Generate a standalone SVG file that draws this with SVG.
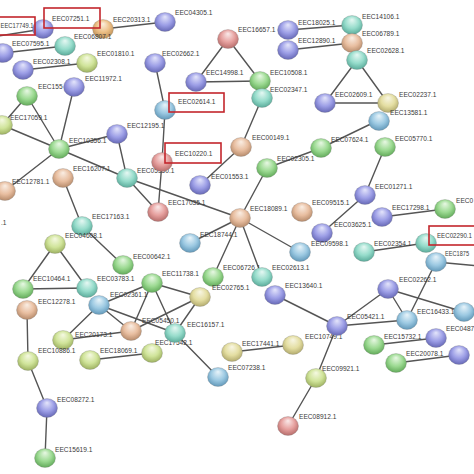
<svg xmlns="http://www.w3.org/2000/svg" width="474" height="474" viewBox="0 0 474 474">
<style>
text{font-family:"Liberation Sans",Arial,sans-serif;font-size:6.6px;fill:#3a3a3a}
.e line{stroke:#555;stroke-width:1.4;stroke-linecap:round}
ellipse{stroke:#777;stroke-opacity:.45;stroke-width:.6}
.box{fill:none;stroke:#c3262c;stroke-width:1.6}
</style>
<defs>
<radialGradient id="gPu" cx="50%" cy="45%" r="60%" fx="50%" fy="22%"><stop offset="0" stop-color="#e4e5fb"/><stop offset=".55" stop-color="#9c9ee6"/><stop offset="1" stop-color="#5f61b0"/></radialGradient>
<radialGradient id="gCy" cx="50%" cy="45%" r="60%" fx="50%" fy="22%"><stop offset="0" stop-color="#e6f8f3"/><stop offset=".55" stop-color="#96dccb"/><stop offset="1" stop-color="#52a594"/></radialGradient>
<radialGradient id="gLb" cx="50%" cy="45%" r="60%" fx="50%" fy="22%"><stop offset="0" stop-color="#e8f4fa"/><stop offset=".55" stop-color="#9cc9e2"/><stop offset="1" stop-color="#5a92b4"/></radialGradient>
<radialGradient id="gGr" cx="50%" cy="45%" r="60%" fx="50%" fy="22%"><stop offset="0" stop-color="#e8f8e4"/><stop offset=".55" stop-color="#9cda92"/><stop offset="1" stop-color="#5aa452"/></radialGradient>
<radialGradient id="gYg" cx="50%" cy="45%" r="60%" fx="50%" fy="22%"><stop offset="0" stop-color="#f5f9e2"/><stop offset=".55" stop-color="#d0e49a"/><stop offset="1" stop-color="#96aa58"/></radialGradient>
<radialGradient id="gYe" cx="50%" cy="45%" r="60%" fx="50%" fy="22%"><stop offset="0" stop-color="#f8f6e4"/><stop offset=".55" stop-color="#e4dea2"/><stop offset="1" stop-color="#aca466"/></radialGradient>
<radialGradient id="gPe" cx="50%" cy="45%" r="60%" fx="50%" fy="22%"><stop offset="0" stop-color="#faeee4"/><stop offset=".55" stop-color="#e8bea0"/><stop offset="1" stop-color="#b08464"/></radialGradient>
<radialGradient id="gRe" cx="50%" cy="45%" r="60%" fx="50%" fy="22%"><stop offset="0" stop-color="#faeaea"/><stop offset=".55" stop-color="#e6a09e"/><stop offset="1" stop-color="#b06664"/></radialGradient>
<radialGradient id="gOr" cx="50%" cy="45%" r="60%" fx="50%" fy="22%"><stop offset="0" stop-color="#fbf0e0"/><stop offset=".55" stop-color="#ecbe84"/><stop offset="1" stop-color="#b88a52"/></radialGradient>
</defs>
<rect width="474" height="474" fill="#fff"/>
<g id="connectors" class="e">
<line x1="43" y1="29" x2="-8" y2="37"/>
<line x1="103" y1="29" x2="165" y2="22"/>
<line x1="65" y1="46" x2="3" y2="53"/>
<line x1="23" y1="70" x2="87" y2="63"/>
<line x1="27" y1="96" x2="59" y2="149"/>
<line x1="74" y1="87" x2="59" y2="149"/>
<line x1="27" y1="96" x2="2" y2="125"/>
<line x1="2" y1="125" x2="59" y2="149"/>
<line x1="59" y1="149" x2="117" y2="134"/>
<line x1="59" y1="149" x2="127" y2="178"/>
<line x1="59" y1="149" x2="5" y2="191"/>
<line x1="117" y1="134" x2="127" y2="178"/>
<line x1="127" y1="178" x2="158" y2="212"/>
<line x1="127" y1="178" x2="240" y2="218"/>
<line x1="63" y1="178" x2="82" y2="226"/>
<line x1="82" y1="226" x2="123" y2="265"/>
<line x1="162" y1="162" x2="158" y2="212"/>
<line x1="165" y1="110" x2="162" y2="162"/>
<line x1="155" y1="63" x2="165" y2="110"/>
<line x1="228" y1="39" x2="196" y2="82"/>
<line x1="228" y1="39" x2="260" y2="81"/>
<line x1="196" y1="82" x2="260" y2="81"/>
<line x1="262" y1="98" x2="241" y2="147"/>
<line x1="241" y1="147" x2="200" y2="185"/>
<line x1="288" y1="30" x2="352" y2="25"/>
<line x1="288" y1="50" x2="352" y2="43"/>
<line x1="357" y1="60" x2="325" y2="103"/>
<line x1="357" y1="60" x2="388" y2="103"/>
<line x1="325" y1="103" x2="388" y2="103"/>
<line x1="379" y1="120" x2="321" y2="148"/>
<line x1="321" y1="148" x2="267" y2="168"/>
<line x1="267" y1="168" x2="240" y2="218"/>
<line x1="385" y1="147" x2="365" y2="195"/>
<line x1="365" y1="195" x2="322" y2="233"/>
<line x1="240" y1="218" x2="213" y2="277"/>
<line x1="240" y1="218" x2="262" y2="277"/>
<line x1="240" y1="218" x2="300" y2="252"/>
<line x1="240" y1="218" x2="190" y2="243"/>
<line x1="382" y1="217" x2="445" y2="209"/>
<line x1="364" y1="252" x2="426" y2="243"/>
<line x1="436" y1="262" x2="480" y2="266"/>
<line x1="436" y1="262" x2="407" y2="320"/>
<line x1="388" y1="289" x2="407" y2="320"/>
<line x1="388" y1="289" x2="337" y2="326"/>
<line x1="388" y1="289" x2="464" y2="312"/>
<line x1="337" y1="326" x2="407" y2="320"/>
<line x1="275" y1="295" x2="337" y2="326"/>
<line x1="337" y1="326" x2="316" y2="378"/>
<line x1="316" y1="378" x2="288" y2="426"/>
<line x1="293" y1="345" x2="232" y2="352"/>
<line x1="175" y1="333" x2="218" y2="377"/>
<line x1="55" y1="244" x2="23" y2="289"/>
<line x1="55" y1="244" x2="87" y2="288"/>
<line x1="23" y1="289" x2="87" y2="288"/>
<line x1="27" y1="310" x2="28" y2="361"/>
<line x1="28" y1="361" x2="47" y2="408"/>
<line x1="47" y1="408" x2="45" y2="458"/>
<line x1="90" y1="360" x2="152" y2="353"/>
<line x1="99" y1="305" x2="152" y2="283"/>
<line x1="99" y1="305" x2="131" y2="331"/>
<line x1="99" y1="305" x2="63" y2="340"/>
<line x1="99" y1="305" x2="175" y2="333"/>
<line x1="152" y1="283" x2="131" y2="331"/>
<line x1="131" y1="331" x2="63" y2="340"/>
<line x1="131" y1="331" x2="200" y2="297"/>
<line x1="152" y1="283" x2="200" y2="297"/>
<line x1="152" y1="283" x2="175" y2="333"/>
<line x1="200" y1="297" x2="175" y2="333"/>
<line x1="396" y1="363" x2="459" y2="355"/>
<line x1="374" y1="345" x2="436" y2="338"/>
</g>
<g id="nodes">
<g id="n17749"><text x="0.5" y="27.5" textLength="33" lengthAdjust="spacingAndGlyphs">EEC17749.1</text></g>
<g id="n07251"><ellipse cx="43" cy="29" rx="10.5" ry="9.5" fill="url(#gPu)"/><text x="52" y="20.5">EEC07251.1</text></g>
<g id="n20313"><ellipse cx="103" cy="29" rx="10.5" ry="9.5" fill="url(#gOr)"/><text x="113" y="21.5">EEC20313.1</text></g>
<g id="n06807"><ellipse cx="65" cy="46" rx="10.5" ry="9.5" fill="url(#gCy)"/><text x="74" y="38.5">EEC06807.1</text></g>
<g id="n07595"><ellipse cx="3" cy="53" rx="10.5" ry="9.5" fill="url(#gPu)"/><text x="12" y="45.5">EEC07595.1</text></g>
<g id="n04305"><ellipse cx="165" cy="22" rx="10.5" ry="9.5" fill="url(#gPu)"/><text x="175" y="14.5">EEC04305.1</text></g>
<g id="n02308"><ellipse cx="23" cy="70" rx="10.5" ry="9.5" fill="url(#gPu)"/><text x="33" y="63.5">EEC02308.1</text></g>
<g id="n01810"><ellipse cx="87" cy="63" rx="10.5" ry="9.5" fill="url(#gYg)"/><text x="97" y="55.5">EEC01810.1</text></g>
<g id="n155"><ellipse cx="27" cy="96" rx="10.5" ry="9.5" fill="url(#gGr)"/><text x="38" y="88.5">EEC155</text></g>
<g id="n11972"><ellipse cx="74" cy="87" rx="10.5" ry="9.5" fill="url(#gPu)"/><text x="85" y="80.5">EEC11972.1</text></g>
<g id="n17059"><ellipse cx="2" cy="125" rx="10.5" ry="9.5" fill="url(#gYg)"/><text x="10" y="119.5">EEC17059.1</text></g>
<g id="n10356"><ellipse cx="59" cy="149" rx="10.5" ry="9.5" fill="url(#gGr)"/><text x="69" y="142.5">EEC10356.1</text></g>
<g id="n12195"><ellipse cx="117" cy="134" rx="10.5" ry="9.5" fill="url(#gPu)"/><text x="127" y="127.5">EEC12195.1</text></g>
<g id="n05350"><text x="137" y="172.5">EEC05350.1</text><ellipse cx="127" cy="178" rx="10.5" ry="9.5" fill="url(#gCy)"/></g>
<g id="n12781"><ellipse cx="5" cy="191" rx="10.5" ry="9.5" fill="url(#gPe)"/><text x="12" y="183.5">EEC12781.1</text></g>
<g id="n16207"><ellipse cx="63" cy="178" rx="10.5" ry="9.5" fill="url(#gPe)"/><text x="73" y="170.5">EEC16207.1</text></g>
<g id="nX1"><text x="1" y="224.5">.1</text></g>
<g id="n17163"><ellipse cx="82" cy="226" rx="10.5" ry="9.5" fill="url(#gCy)"/><text x="92" y="218.5">EEC17163.1</text></g>
<g id="n10220"><ellipse cx="162" cy="162" rx="10.5" ry="9.5" fill="url(#gRe)"/><text x="175" y="155.5">EEC10220.1</text></g>
<g id="n17035"><ellipse cx="158" cy="212" rx="10.5" ry="9.5" fill="url(#gRe)"/><text x="168" y="204.5">EEC17035.1</text></g>
<g id="n02662"><ellipse cx="155" cy="63" rx="10.5" ry="9.5" fill="url(#gPu)"/><text x="162" y="55.5">EEC02662.1</text></g>
<g id="n02614"><ellipse cx="165" cy="110" rx="10.5" ry="9.5" fill="url(#gLb)"/><text x="178" y="103.5">EEC02614.1</text></g>
<g id="n16657"><ellipse cx="228" cy="39" rx="10.5" ry="9.5" fill="url(#gRe)"/><text x="238" y="31.5">EEC16657.1</text></g>
<g id="n14998"><ellipse cx="196" cy="82" rx="10.5" ry="9.5" fill="url(#gPu)"/><text x="206" y="74.5">EEC14998.1</text></g>
<g id="n10508"><ellipse cx="260" cy="81" rx="10.5" ry="9.5" fill="url(#gGr)"/><text x="270" y="74.5">EEC10508.1</text></g>
<g id="n02347"><ellipse cx="262" cy="98" rx="10.5" ry="9.5" fill="url(#gCy)"/><text x="270" y="91.5">EEC02347.1</text></g>
<g id="n00149"><ellipse cx="241" cy="147" rx="10.5" ry="9.5" fill="url(#gPe)"/><text x="252" y="139.5">EEC00149.1</text></g>
<g id="n01553"><ellipse cx="200" cy="185" rx="10.5" ry="9.5" fill="url(#gPu)"/><text x="211" y="178.5">EEC01553.1</text></g>
<g id="n18025"><ellipse cx="288" cy="30" rx="10.5" ry="9.5" fill="url(#gPu)"/><text x="298" y="24.5">EEC18025.1</text></g>
<g id="n12890"><ellipse cx="288" cy="50" rx="10.5" ry="9.5" fill="url(#gPu)"/><text x="298" y="42.5">EEC12890.1</text></g>
<g id="n14106"><ellipse cx="352" cy="25" rx="10.5" ry="9.5" fill="url(#gCy)"/><text x="362" y="18.5">EEC14106.1</text></g>
<g id="n06789"><ellipse cx="352" cy="43" rx="10.5" ry="9.5" fill="url(#gPe)"/><text x="362" y="35.5">EEC06789.1</text></g>
<g id="n02628"><ellipse cx="357" cy="60" rx="10.5" ry="9.5" fill="url(#gCy)"/><text x="367" y="52.5">EEC02628.1</text></g>
<g id="n02609"><ellipse cx="325" cy="103" rx="10.5" ry="9.5" fill="url(#gPu)"/><text x="335" y="96.5">EEC02609.1</text></g>
<g id="n02237"><ellipse cx="388" cy="103" rx="10.5" ry="9.5" fill="url(#gYe)"/><text x="399" y="96.5">EEC02237.1</text></g>
<g id="n13581"><ellipse cx="379" cy="121" rx="10.5" ry="9.5" fill="url(#gLb)"/><text x="390" y="114.5">EEC13581.1</text></g>
<g id="n07624"><ellipse cx="321" cy="148" rx="10.5" ry="9.5" fill="url(#gGr)"/><text x="331" y="141.5">EEC07624.1</text></g>
<g id="n05770"><ellipse cx="385" cy="147" rx="10.5" ry="9.5" fill="url(#gGr)"/><text x="395" y="140.5">EEC05770.1</text></g>
<g id="n02305"><ellipse cx="267" cy="168" rx="10.5" ry="9.5" fill="url(#gGr)"/><text x="277" y="160.5">EEC02305.1</text></g>
<g id="n01271"><ellipse cx="365" cy="195" rx="10.5" ry="9.5" fill="url(#gPu)"/><text x="375" y="188.5">EEC01271.1</text></g>
<g id="n09515"><ellipse cx="302" cy="212" rx="10.5" ry="9.5" fill="url(#gPe)"/><text x="312" y="204.5">EEC09515.1</text></g>
<g id="n18089"><ellipse cx="240" cy="218" rx="10.5" ry="9.5" fill="url(#gPe)"/><text x="250" y="210.5">EEC18089.1</text></g>
<g id="n03625"><ellipse cx="322" cy="233" rx="10.5" ry="9.5" fill="url(#gPu)"/><text x="334" y="226.5">EEC03625.1</text></g>
<g id="n17298"><ellipse cx="382" cy="217" rx="10.5" ry="9.5" fill="url(#gPu)"/><text x="392" y="209.5">EEC17298.1</text></g>
<g id="n0R"><ellipse cx="445" cy="209" rx="10.5" ry="9.5" fill="url(#gGr)"/><text x="456" y="202.5">EEC0</text></g>
<g id="n09598"><ellipse cx="300" cy="252" rx="10.5" ry="9.5" fill="url(#gLb)"/><text x="311" y="245.5">EEC09598.1</text></g>
<g id="n18744"><ellipse cx="190" cy="243" rx="10.5" ry="9.5" fill="url(#gLb)"/><text x="200" y="236.5">EEC18744.1</text></g>
<g id="n02354"><ellipse cx="364" cy="252" rx="10.5" ry="9.5" fill="url(#gCy)"/><text x="374" y="245.5">EEC02354.1</text></g>
<g id="n02290"><text x="437" y="237.5" textLength="35" lengthAdjust="spacingAndGlyphs">EEC02290.1</text><ellipse cx="426" cy="243" rx="10.5" ry="9.5" fill="url(#gCy)"/></g>
<g id="n18752"><ellipse cx="436" cy="262" rx="10.5" ry="9.5" fill="url(#gLb)"/><text x="445" y="255.5" textLength="24" lengthAdjust="spacingAndGlyphs">EEC1875</text></g>
<g id="n06726"><ellipse cx="213" cy="277" rx="10.5" ry="9.5" fill="url(#gGr)"/><text x="223" y="269.5">EEC06726.1</text></g>
<g id="n02613"><ellipse cx="262" cy="277" rx="10.5" ry="9.5" fill="url(#gCy)"/><text x="272" y="269.5">EEC02613.1</text></g>
<g id="n02765"><ellipse cx="200" cy="297" rx="10.5" ry="9.5" fill="url(#gYe)"/><text x="212" y="289.5">EEC02765.1</text></g>
<g id="n13640"><ellipse cx="275" cy="295" rx="10.5" ry="9.5" fill="url(#gPu)"/><text x="285" y="287.5">EEC13640.1</text></g>
<g id="n02262"><ellipse cx="388" cy="289" rx="10.5" ry="9.5" fill="url(#gPu)"/><text x="399" y="281.5">EEC02262.1</text></g>
<g id="n16433"><ellipse cx="407" cy="320" rx="10.5" ry="9.5" fill="url(#gLb)"/><text x="417" y="313.5">EEC16433.1</text></g>
<g id="n16433b"><ellipse cx="464" cy="312" rx="10.5" ry="9.5" fill="url(#gLb)"/></g>
<g id="n10749"><ellipse cx="293" cy="345" rx="10.5" ry="9.5" fill="url(#gYe)"/><text x="305" y="338.5">EEC10749.1</text></g>
<g id="n05421"><ellipse cx="337" cy="326" rx="10.5" ry="9.5" fill="url(#gPu)"/><text x="347" y="318.5">EEC05421.1</text></g>
<g id="n0487"><ellipse cx="436" cy="338" rx="10.5" ry="9.5" fill="url(#gPu)"/><text x="446" y="330.5">EEC0487</text></g>
<g id="n15732"><ellipse cx="374" cy="345" rx="10.5" ry="9.5" fill="url(#gGr)"/><text x="384" y="338.5">EEC15732.1</text></g>
<g id="n20078"><ellipse cx="396" cy="363" rx="10.5" ry="9.5" fill="url(#gGr)"/><text x="406" y="355.5">EEC20078.1</text></g>
<g id="n20078b"><ellipse cx="459" cy="355" rx="10.5" ry="9.5" fill="url(#gPu)"/></g>
<g id="n09921"><ellipse cx="316" cy="378" rx="10.5" ry="9.5" fill="url(#gYg)"/><text x="322" y="370.5">EEC09921.1</text></g>
<g id="n08912"><ellipse cx="288" cy="426" rx="10.5" ry="9.5" fill="url(#gRe)"/><text x="299" y="418.5">EEC08912.1</text></g>
<g id="n17441"><ellipse cx="232" cy="352" rx="10.5" ry="9.5" fill="url(#gYe)"/><text x="242" y="345.5">EEC17441.1</text></g>
<g id="n07238"><ellipse cx="218" cy="377" rx="10.5" ry="9.5" fill="url(#gLb)"/><text x="228" y="369.5">EEC07238.1</text></g>
<g id="n1542"><ellipse cx="152" cy="353" rx="10.5" ry="9.5" fill="url(#gYg)"/><text x="155" y="344.5">EEC17542.1</text></g>
<g id="n16157"><ellipse cx="175" cy="333" rx="10.5" ry="9.5" fill="url(#gCy)"/><text x="187" y="326.5">EEC16157.1</text></g>
<g id="n11738"><ellipse cx="152" cy="283" rx="10.5" ry="9.5" fill="url(#gGr)"/><text x="162" y="275.5">EEC11738.1</text></g>
<g id="n00642"><ellipse cx="123" cy="265" rx="10.5" ry="9.5" fill="url(#gGr)"/><text x="133" y="258.5">EEC00642.1</text></g>
<g id="n04608"><ellipse cx="55" cy="244" rx="10.5" ry="9.5" fill="url(#gYg)"/><text x="65" y="237.5">EEC04608.1</text></g>
<g id="n10464"><ellipse cx="23" cy="289" rx="10.5" ry="9.5" fill="url(#gGr)"/><text x="33" y="280.5">EEC10464.1</text></g>
<g id="n03783"><ellipse cx="87" cy="288" rx="10.5" ry="9.5" fill="url(#gCy)"/><text x="97" y="280.5">EEC03783.1</text></g>
<g id="n12278"><ellipse cx="27" cy="310" rx="10.5" ry="9.5" fill="url(#gPe)"/><text x="38" y="303.5">EEC12278.1</text></g>
<g id="n02361"><ellipse cx="99" cy="305" rx="10.5" ry="9.5" fill="url(#gLb)"/><text x="110" y="296.5">EEC02361.1</text></g>
<g id="n05450"><ellipse cx="131" cy="331" rx="10.5" ry="9.5" fill="url(#gPe)"/><text x="142" y="322.5">EEC05450.1</text></g>
<g id="n20173"><ellipse cx="63" cy="340" rx="10.5" ry="9.5" fill="url(#gYg)"/><text x="75" y="336.5">EEC20173.1</text></g>
<g id="n10886"><ellipse cx="28" cy="361" rx="10.5" ry="9.5" fill="url(#gYg)"/><text x="38" y="352.5">EEC10886.1</text></g>
<g id="n18069"><ellipse cx="90" cy="360" rx="10.5" ry="9.5" fill="url(#gYg)"/><text x="100" y="352.5">EEC18069.1</text></g>
<g id="n08272"><ellipse cx="47" cy="408" rx="10.5" ry="9.5" fill="url(#gPu)"/><text x="57" y="401.5">EEC08272.1</text></g>
<g id="n15619"><ellipse cx="45" cy="458" rx="10.5" ry="9.5" fill="url(#gGr)"/><text x="55" y="451.5">EEC15619.1</text></g>
</g>
<g id="highlights">
<rect class="box" x="-2" y="17" width="37" height="18"/>
<rect class="box" x="44" y="8" width="56" height="20"/>
<rect class="box" x="169" y="93" width="55" height="19"/>
<rect class="box" x="165" y="143" width="56" height="20"/>
<rect class="box" x="429" y="226" width="48" height="19"/>
</g>
</svg>
